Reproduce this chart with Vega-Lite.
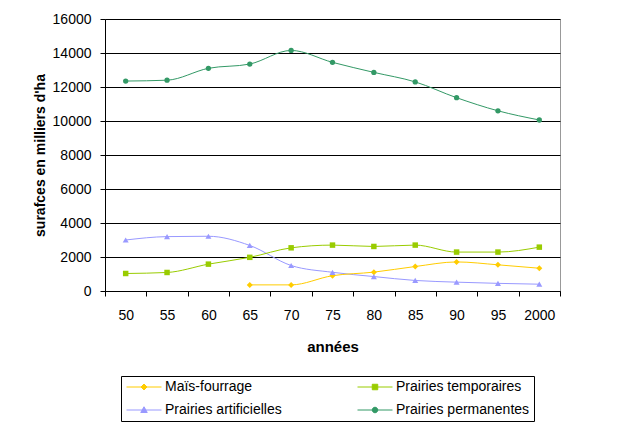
{
  "$schema": "https://vega.github.io/schema/vega-lite/v6.json",
  "width": 455,
  "height": 272,
  "autosize": "none",
  "padding": {"left": 105, "top": 19, "right": 64, "bottom": 145},
  "background": "white",
  "config": {
    "font": "Liberation Sans",
    "view": {"stroke": "#999999", "strokeWidth": 1}
  },
  "data": {
    "values": [
      {"annee": "50", "serie": "Prairies permanentes", "v": 12350},
      {"annee": "55", "serie": "Prairies permanentes", "v": 12400},
      {"annee": "60", "serie": "Prairies permanentes", "v": 13100},
      {"annee": "65", "serie": "Prairies permanentes", "v": 13350},
      {"annee": "70", "serie": "Prairies permanentes", "v": 14150},
      {"annee": "75", "serie": "Prairies permanentes", "v": 13450},
      {"annee": "80", "serie": "Prairies permanentes", "v": 12860},
      {"annee": "85", "serie": "Prairies permanentes", "v": 12300},
      {"annee": "90", "serie": "Prairies permanentes", "v": 11370},
      {"annee": "95", "serie": "Prairies permanentes", "v": 10600},
      {"annee": "2000", "serie": "Prairies permanentes", "v": 10060},
      {"annee": "50", "serie": "Prairies artificielles", "v": 3000},
      {"annee": "55", "serie": "Prairies artificielles", "v": 3200},
      {"annee": "60", "serie": "Prairies artificielles", "v": 3220},
      {"annee": "65", "serie": "Prairies artificielles", "v": 2680},
      {"annee": "70", "serie": "Prairies artificielles", "v": 1500},
      {"annee": "75", "serie": "Prairies artificielles", "v": 1100},
      {"annee": "80", "serie": "Prairies artificielles", "v": 850},
      {"annee": "85", "serie": "Prairies artificielles", "v": 620},
      {"annee": "90", "serie": "Prairies artificielles", "v": 520},
      {"annee": "95", "serie": "Prairies artificielles", "v": 450},
      {"annee": "2000", "serie": "Prairies artificielles", "v": 400},
      {"annee": "50", "serie": "Prairies temporaires", "v": 1030},
      {"annee": "55", "serie": "Prairies temporaires", "v": 1090},
      {"annee": "60", "serie": "Prairies temporaires", "v": 1580},
      {"annee": "65", "serie": "Prairies temporaires", "v": 1980},
      {"annee": "70", "serie": "Prairies temporaires", "v": 2540},
      {"annee": "75", "serie": "Prairies temporaires", "v": 2700},
      {"annee": "80", "serie": "Prairies temporaires", "v": 2620},
      {"annee": "85", "serie": "Prairies temporaires", "v": 2700},
      {"annee": "90", "serie": "Prairies temporaires", "v": 2290},
      {"annee": "95", "serie": "Prairies temporaires", "v": 2290},
      {"annee": "2000", "serie": "Prairies temporaires", "v": 2580},
      {"annee": "65", "serie": "Maïs-fourrage", "v": 360},
      {"annee": "70", "serie": "Maïs-fourrage", "v": 360},
      {"annee": "75", "serie": "Maïs-fourrage", "v": 900},
      {"annee": "80", "serie": "Maïs-fourrage", "v": 1110},
      {"annee": "85", "serie": "Maïs-fourrage", "v": 1440},
      {"annee": "90", "serie": "Maïs-fourrage", "v": 1710},
      {"annee": "95", "serie": "Maïs-fourrage", "v": 1540},
      {"annee": "2000", "serie": "Maïs-fourrage", "v": 1340}
    ]
  },
  "encoding": {
    "x": {
      "field": "annee",
      "type": "ordinal",
      "sort": ["50", "55", "60", "65", "70", "75", "80", "85", "90", "95", "2000"],
      "scale": {"type": "band", "paddingInner": 0, "paddingOuter": 0},
      "bandPosition": 0.5,
      "axis": {
        "title": "années",
        "titleFontWeight": "bold",
        "titleFontSize": 15,
        "titlePadding": 17,
        "labelAngle": 0,
        "labelFontSize": 14,
        "labelPadding": 12,
        "labelColor": "black",
        "tickBand": "extent",
        "grid": false,
        "domainColor": "black",
        "tickColor": "black",
        "tickSize": 5
      }
    },
    "y": {
      "field": "v",
      "type": "quantitative",
      "scale": {"domain": [0, 16000], "nice": false},
      "axis": {
        "values": [0, 2000, 4000, 6000, 8000, 10000, 12000, 14000, 16000],
        "format": "d",
        "grid": true,
        "gridColor": "black",
        "gridOpacity": 1,
        "domainColor": "black",
        "tickColor": "black",
        "tickSize": 5,
        "labelFontSize": 14,
        "labelColor": "black",
        "labelPadding": 9,
        "title": "surafces en milliers d'ha",
        "titleFontWeight": "bold",
        "titleFontSize": 14,
        "titlePadding": 5
      }
    },
    "fill": {
      "field": "serie",
      "type": "nominal",
      "scale": {
        "domain": ["Maïs-fourrage", "Prairies artificielles", "Prairies temporaires", "Prairies permanentes"],
        "range": ["#FFCC00", "#9999FF", "#99CC00", "#339966"]
      },
      "legend": null
    }
  },
  "layer": [
    {
      "mark": {"type": "line", "interpolate": "monotone", "strokeWidth": 1},
      "encoding": {
        "fill": null,
        "color": {
          "field": "serie",
          "type": "nominal",
          "scale": {
            "domain": ["Maïs-fourrage", "Prairies artificielles", "Prairies temporaires", "Prairies permanentes"],
            "range": ["#FFCC00", "#9999FF", "#99CC00", "#339966"]
          },
          "legend": {
            "title": null,
            "orient": "none",
            "legendX": 16,
            "legendY": 357,
            "columns": 2,
            "columnPadding": 73,
            "rowPadding": 9,
            "padding": 4,
            "strokeColor": "black",
            "fillColor": "white",
            "labelFontSize": 14,
            "labelColor": "black",
            "labelExpr": "datum.label + (datum.label == 'Prairies temporaires' || datum.label == 'Prairies permanentes' ? '\u00a0\u00a0\u00a0\u00a0\u00a0\u00a0\u00a0\u00a0' : '')",
            "symbolSize": 100,
            "symbolOffset": 12,
            "labelOffset": 14,
            "symbolStrokeWidth": 1,
            "encode": {
              "symbols": {
                "update": {
                  "shape": {"signal": "datum.value == 'Maïs-fourrage' ? 'M-3.5,0H3.5M0,-0.6L0.6,0L0,0.6L-0.6,0Z' : datum.value == 'Prairies temporaires' ? 'M-3.5,0H3.5M-0.55,-0.55H0.55V0.55H-0.55Z' : datum.value == 'Prairies artificielles' ? 'M-3.5,0H3.5M0,-0.65L0.65,0.5H-0.65Z' : 'M-3.5,0H3.5M-0.55,0A0.55,0.55 0 1,0 0.55,0A0.55,0.55 0 1,0 -0.55,0Z'"},
                  "stroke": {"scale": "color", "field": "value"},
                  "fill": {"scale": "color", "field": "value"},
                  "opacity": {"value": 1}
                }
              }
            }
          }
        }
      }
    },
    {
      "transform": [{"filter": "datum.serie == 'Maïs-fourrage'"}],
      "mark": {"type": "point", "shape": "diamond", "filled": true, "opacity": 1, "size": 36}
    },
    {
      "transform": [{"filter": "datum.serie == 'Prairies artificielles'"}],
      "mark": {"type": "point", "shape": "triangle-up", "filled": true, "opacity": 1, "size": 36}
    },
    {
      "transform": [{"filter": "datum.serie == 'Prairies temporaires'"}],
      "mark": {"type": "point", "shape": "square", "filled": true, "opacity": 1, "size": 30}
    },
    {
      "transform": [{"filter": "datum.serie == 'Prairies permanentes'"}],
      "mark": {"type": "point", "shape": "circle", "filled": true, "opacity": 1, "size": 28}
    }
  ]
}
